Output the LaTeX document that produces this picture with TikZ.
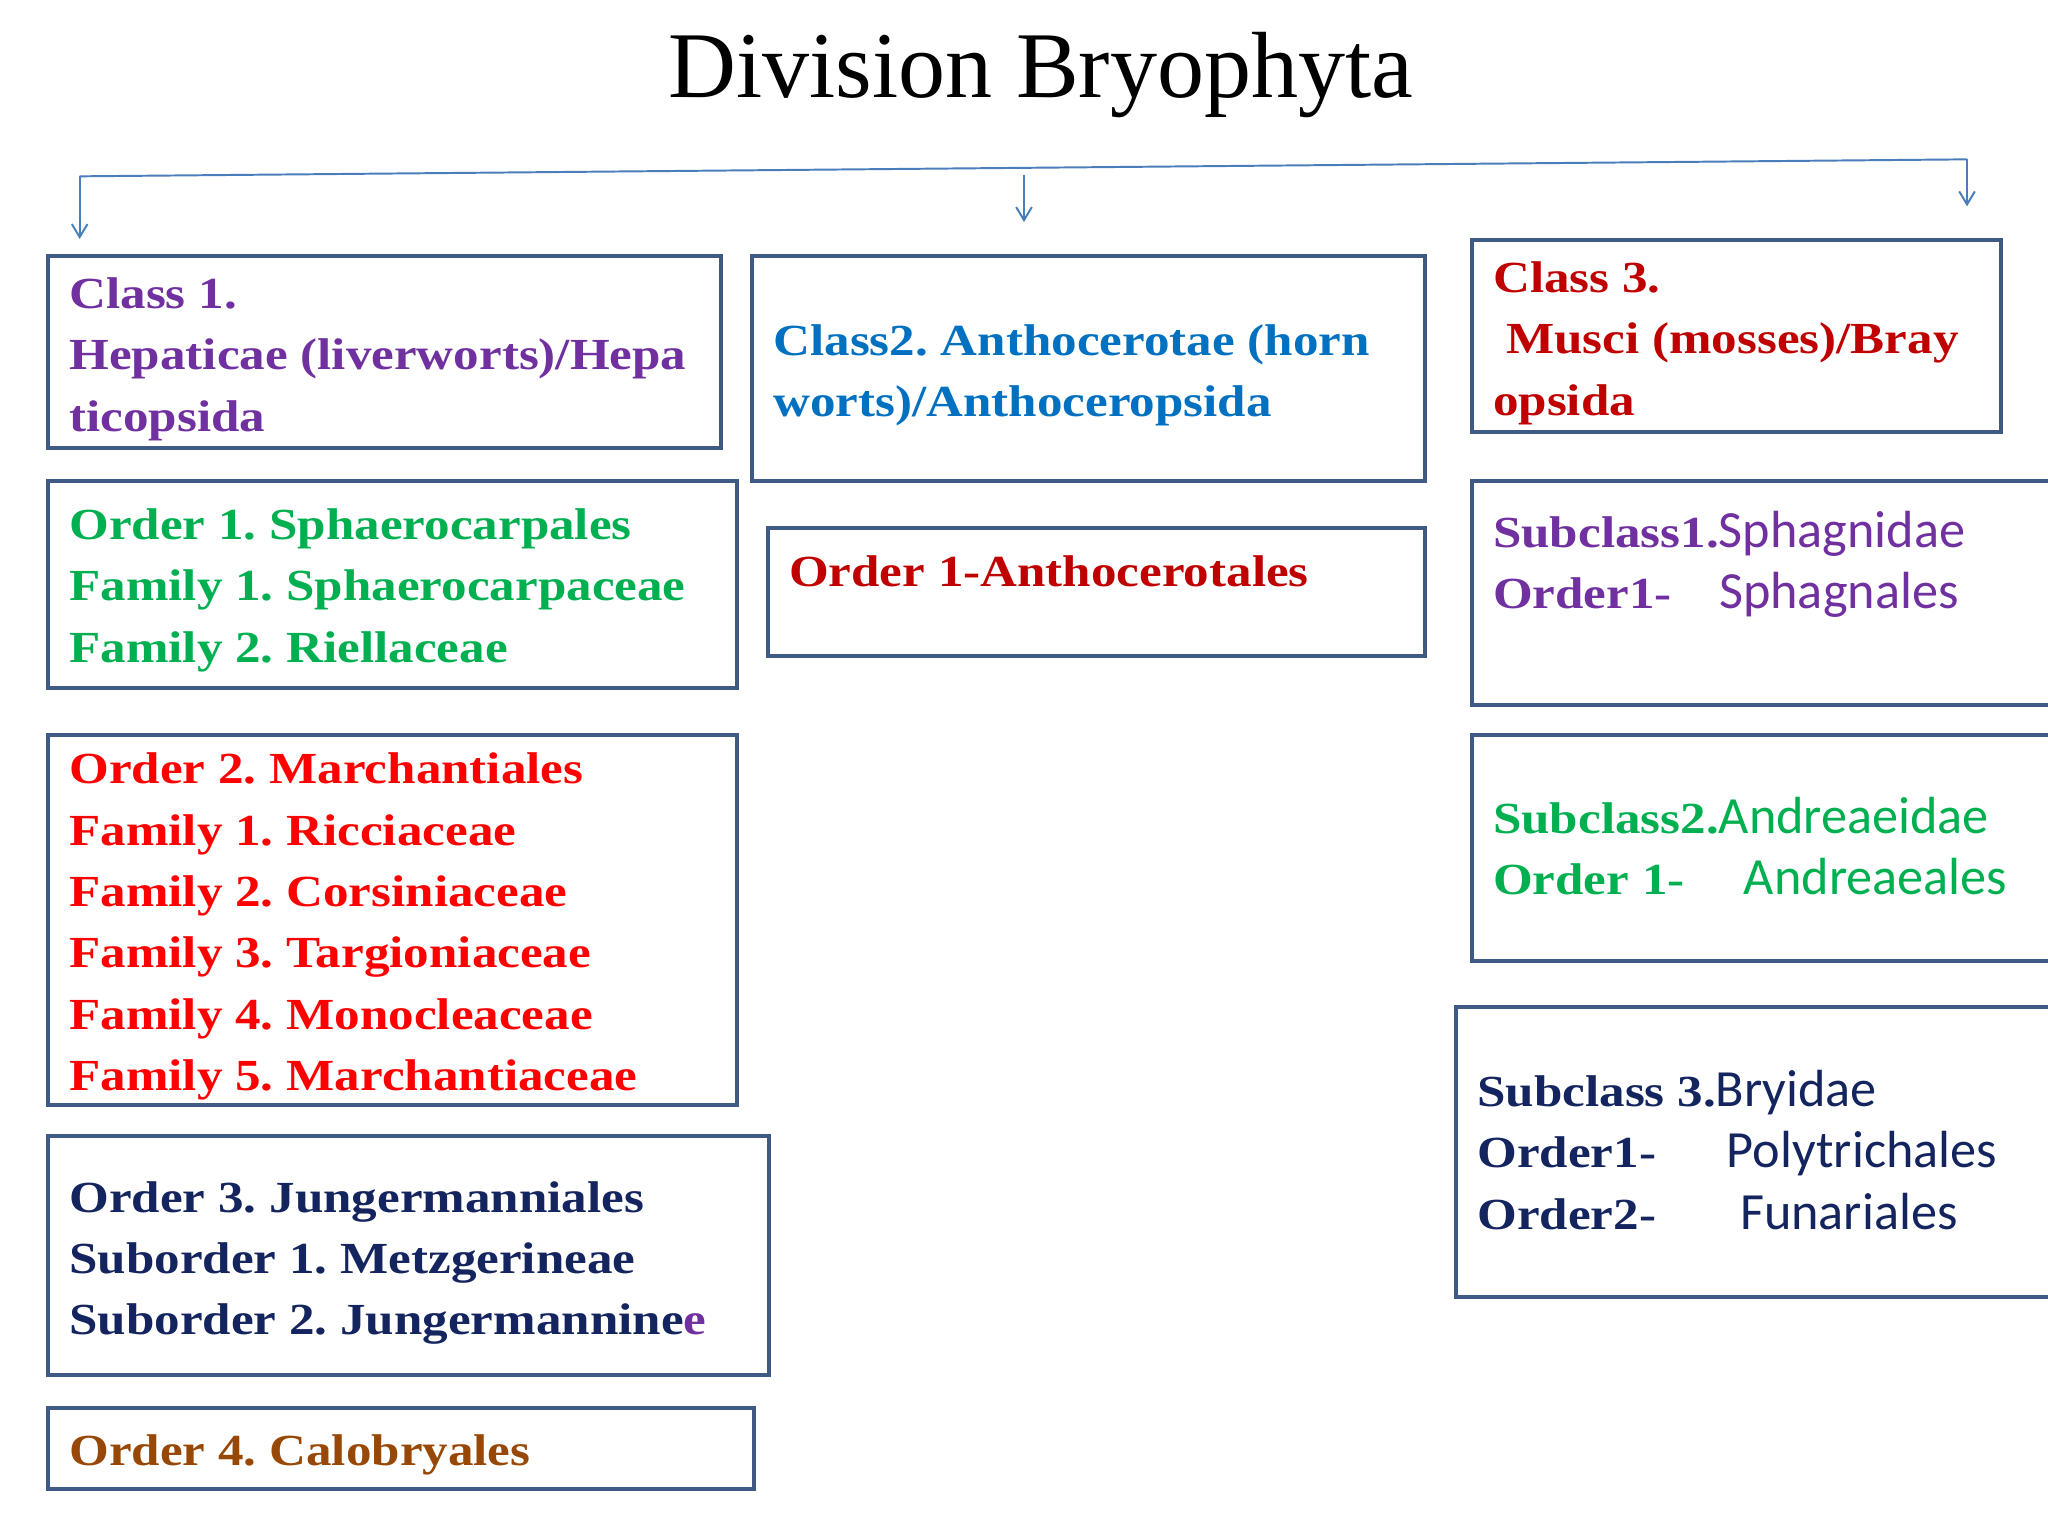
\documentclass[tikz,border=0pt]{standalone}
\usepackage{fontspec}
\setmainfont{Liberation Serif}
\newfontfamily\bs[FakeStretch=1.15]{Liberation Serif}
\newfontfamily\cb{Carlito}
\definecolor{bx}{HTML}{3F5A85}
\definecolor{ar}{HTML}{4A7EBB}
\definecolor{pu}{HTML}{7030A0}
\definecolor{gr}{HTML}{00B050}
\definecolor{rd}{HTML}{FF0000}
\definecolor{nv}{HTML}{14245E}
\definecolor{br}{HTML}{984806}
\definecolor{bl}{HTML}{0070C0}
\definecolor{dr}{HTML}{C00000}
\usetikzlibrary{arrows.meta}
\tikzset{box/.style={draw=bx,line width=3pt},
 t/.style={anchor=base west,inner sep=0pt,font=\fontsize{34}{40}\bs\bfseries\frenchspacing},
 arr/.style={draw=ar,line width=1.5pt,-{Straight Barb[length=10pt,width=12pt]}}}
\newcommand{\sn}[1]{{\fontsize{40}{44}\cb\mdseries #1}}
\begin{document}
\begin{tikzpicture}[x=1pt,y=-1pt]
\useasboundingbox (0,0) rectangle (1568,1176);
\node[anchor=base,inner sep=0pt,font=\fontsize{72}{80}\selectfont] (title) at (797,75) {Division Bryophyta};
\coordinate (l) at (61,135); \coordinate (r) at (1506,122);
\coordinate (la) at (61,183); \coordinate (ra) at (1506,158);
\coordinate (m0) at (784,134); \coordinate (ma) at (784,170);
\draw[draw=ar,line width=1.5pt] (l) -- (r);
\draw[arr] (l) -- (la); \draw[arr] (r) -- (ra); \draw[arr] (m0) -- (ma);
\draw[box] (37,196) rectangle (552,343);
\draw[box] (37,368) rectangle (564,527);
\draw[box] (37,563) rectangle (564,846);
\draw[box] (37,870) rectangle (589,1053);
\draw[box] (37,1078) rectangle (577,1140);
\draw[box] (576,196) rectangle (1091,368);
\draw[box] (588,404) rectangle (1091,502);
\draw[box] (1127,184) rectangle (1532,331);
\draw[box] (1127,368) rectangle (1575,540);
\draw[box] (1127,563) rectangle (1575,736);
\draw[box] (1115,771) rectangle (1575,993);
\begin{scope}[every node/.style={t}]
\node[pu] (c1a) at (53,236) {Class 1.};
\node[pu] (c1b) at (53,283) {Hepaticae (liverworts)/Hepa};
\node[pu] (c1c) at (53,330) {ticopsida};
\node[gr] (o1a) at (53,413) {Order 1. Sphaerocarpales};
\node[gr] (o1b) at (53,460) {Family 1. Sphaerocarpaceae};
\node[gr] (o1c) at (53,507) {Family 2. Riellaceae};
\node[rd] (o2a) at (53,600) {Order 2. Marchantiales};
\node[rd] (o2b) at (53,647) {Family 1. Ricciaceae};
\node[rd] (o2c) at (53,694) {Family 2. Corsiniaceae};
\node[rd] (o2d) at (53,741) {Family 3. Targioniaceae};
\node[rd] (o2e) at (53,788) {Family 4. Monocleaceae};
\node[rd] (o2f) at (53,835) {Family 5. Marchantiaceae};
\node[nv] (o3a) at (53,928) {Order 3. Jungermanniales};
\node[nv] (o3b) at (53,975) {Suborder 1. Metzgerineae};
\node[nv] (o3c) at (53,1022) {Suborder 2. Jungermannine\textcolor{pu}{e}};
\node[br] (o4) at (53,1122) {Order 4. Calobryales};
\node[bl] (c2a) at (592,272) {Class2. Anthocerotae (horn};
\node[bl] (c2b) at (592,319) {worts)/Anthoceropsida};
\node[dr] (ao) at (604,449) {Order 1-Anthocerotales};
\node[dr] (c3a) at (1143,224) {Class 3.};
\node[dr] (c3b) at (1153,271) {Musci (mosses)/Bray};
\node[dr] (c3c) at (1143,318) {opsida};
\node[pu] (s1a) at (1143,419) {Subclass1.\sn{Sphagnidae}};
\node[pu] (s1b) at (1143,466) {Order1-};
\node[pu] (s1c) at (1316,466) {\sn{Sphagnales}};
\node[gr] (s2a) at (1143,638) {Subclass2.\sn{Andreaeidae}};
\node[gr] (s2b) at (1143,685) {Order 1-};
\node[gr] (s2c) at (1335,685) {\sn{Andreaeales}};
\node[nv] (s3a) at (1131,847) {Subclass 3.\sn{Bryidae}};
\node[nv] (s3b) at (1131,894) {Order1-};
\node[nv] (s3c) at (1322,894) {\sn{Polytrichales}};
\node[nv] (s3d) at (1131,941) {Order2-};
\node[nv] (s3e) at (1332,941) {\sn{Funariales}};
\end{scope}
\end{tikzpicture}
\end{document}
